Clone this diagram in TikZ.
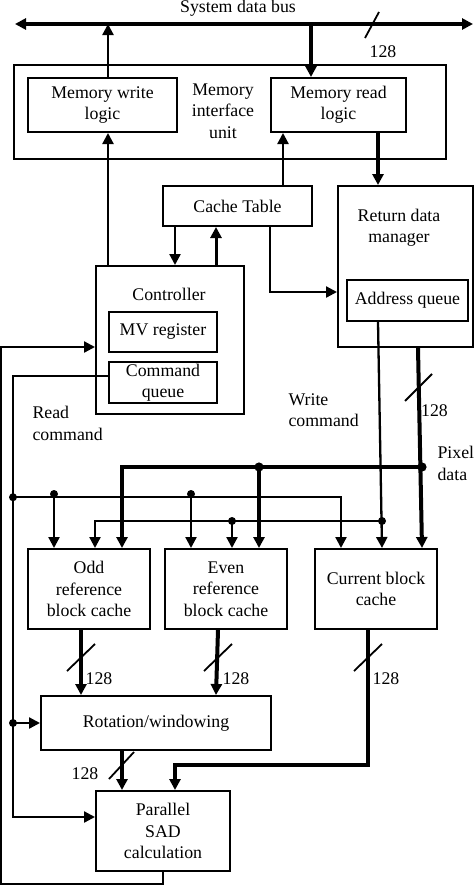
\documentclass[tikz,border=0pt]{standalone}
\usepackage{fontspec}
\setmainfont{Liberation Serif}
\usetikzlibrary{positioning}
\usetikzlibrary{calc}
\usetikzlibrary{arrows.meta}

\begin{document}
\begin{tikzpicture}[x=1pt,y=-1pt,align=center,font=\fontsize{17.8}{21.3}\selectfont,
	>={Triangle[length=11pt,width=11pt]},
	blk/.style={rectangle,draw=black,line width=2pt,inner sep=2pt},
	sig/.style={line width=2.3pt,->},
	midsig/.style={line width=3pt,->},
	wide/.style={line width=4pt,->},
	buscut/.style={line width=1.8pt}]
		\useasboundingbox (0,0) rectangle (474,886);
		% memory interface
		\node[blk,minimum width=432pt,minimum height=94pt] (miu) at (230,112) {};
		\node (miulbl) at ($(miu)+(-7,-1)$) {Memory\\interface\\unit};
		\node[blk,minimum width=149pt,minimum height=54pt] (mwl) at (102.5,105) {Memory write\\logic};
		\node[blk,minimum width=135pt,minimum height=54pt] (mrl) at (338.5,105) {Memory read\\logic};
		\node[blk,minimum width=149pt,minimum height=40pt] (ct) at (237.5,206) {Cache Table};
		\node[blk,minimum width=135pt,minimum height=161pt] (rdm) at (405.5,266.5) {};
		\node (rdmlbl) at ($(rdm.north)+(-6.5,42.5)$) {Return data\\manager};
		\node[blk,minimum width=121pt,minimum height=41pt] (aq) at (407.5,300.5) {Address queue};
		\node[blk,minimum width=148pt,minimum height=148pt] (ctrl) at (170,340) {};
		\node (ctrllbl) at ($(ctrl.north)+(-1,29)$) {Controller};
		\node[blk,minimum width=108pt,minimum height=40pt] (mv) at (163,332) {MV register};
		\node[blk,minimum width=108pt,minimum height=41pt,below=8pt of mv] (cq) {Command\\queue};
		% caches
		\node[blk,minimum width=122pt,minimum height=80pt] (odd) at (89,589) {Odd\\reference\\block cache};
		\node[blk,minimum width=122pt,minimum height=80pt,right=13pt of odd] (even) {Even\\reference\\block cache};
		\node[blk,minimum width=122pt,minimum height=80pt,right=26pt of even] (cur) {Current block\\cache};
		\node[blk,minimum width=230pt,minimum height=54pt] (rot) at (156,723) {Rotation/windowing};
		\node[blk,minimum width=134pt,minimum height=80pt] (sad) at (163,831) {Parallel\\SAD\\calculation};
		% labels
		\node (buslbl) at (238,8.5) {System data bus};
		\node (bus128) at (383,52) {128};
		\node[anchor=west,align=left] (rdlbl) at (29,423.5) {Read\\command};
		\node[anchor=west,align=left] (wrlbl) at (285,410) {Write\\command};
		\node[anchor=west,align=left] (pixlbl) at (434,463.5) {Pixel\\data};
		\node (pix128) at ($(rdm.south west)+(97.5,63)$) {128};
		\node (rot128) at ($(rot.south west)+(45,23)$) {128};
		% system bus
		\coordinate (busL) at (15,24);
		\coordinate (busR) at (473,24);
		\draw[line width=3.6pt,<->] (busL) -- (busR);
		\draw[buscut] (365,38) -- (379,12);
		\coordinate (mwup) at ($(mwl.north west)+(81,0)$);
		\draw[sig] (mwup) -- (mwup |- busL);
		\coordinate (mrdn) at ($(mrl.north west)+(41,0)$);
		\draw[wide] (mrdn |- busL) -- (mrdn);
		% controller and cache table
		\draw[sig] ($(ctrl.north west)+(13,0)$) -- ($(mwl.south west)+(81,0)$);
		\draw[sig] ($(ct.north west)+(121,0)$) -- ($(mrl.south west)+(13,0)$);
		\draw[wide] ($(mrl.south west)+(108,0)$) -- ($(rdm.north west)+(41,0)$);
		\draw[sig] ($(ct.south west)+(13,0)$) -- ($(ctrl.north west)+(80,0)$);
		\draw[midsig] ($(ctrl.north west)+(121,0)$) -- ($(ct.south west)+(54,0)$);
		\draw[sig] ($(ct.south west)+(108,0)$) |- ($(rdm.north west)+(0,107)$);
		% feedback from SAD
		\coordinate (fbk) at ($(ctrl.west)+(-94.5,7)$);
		\draw[sig] (sad.south) -- ++(0,12) -| (fbk) -- ($(ctrl.west)+(0,7)$);
		% read command
		\coordinate (rdtop) at ($(cq.west)+(-95,-6.5)$);
		\coordinate (rdbus) at ($(rdtop)+(0,121)$);
		\coordinate (rdrot) at (rot.west -| rdtop);
		\draw[sig] ($(cq.west)+(0,-6.5)$) -- (rdtop) |- ($(sad.west)+(0,-14)$);
		\draw[sig] (rdrot) -- (rot.west);
		\draw[sig] (rdbus) -| ($(cur.north west)+(27,0)$);
		\foreach \cb in {odd,even}{
			\fill ($(\cb.north west)+(27,-54)$) circle (4pt);
			\draw[sig] ($(\cb.north west)+(27,-54)$) -- ($(\cb.north west)+(27,0)$);
		}
		\fill (rdbus) circle (4pt);
		\fill (rdrot) circle (4pt);
		% write command
		\coordinate (wrj) at ($(cur.north west)+(68,-27)$);
		\draw[sig] ($(aq.south west)+(32,0)$) -- ($(cur.north west)+(68,0)$);
		\draw[sig] (wrj) -| ($(odd.north west)+(68,0)$);
		\fill (wrj) circle (4pt);
		\fill ($(even.north west)+(68,-27)$) circle (4pt);
		\draw[sig] ($(even.north west)+(68,-27)$) -- ($(even.north west)+(68,0)$);
		% pixel data
		\coordinate (pxj) at ($(cur.north west)+(108,-81)$);
		\draw[wide] ($(rdm.south west)+(81,0)$) -- ($(cur.north west)+(108,0)$);
		\draw[buscut] ($(rdm.south west)+(68,53)$) -- ++(27,-27);
		\draw[wide] (pxj) -| ($(odd.north west)+(95,0)$);
		\fill (pxj) circle (4.6pt);
		\fill ($(even.north west)+(95,-81)$) circle (4.6pt);
		\draw[wide] ($(even.north west)+(95,-81)$) -- ($(even.north west)+(95,0)$);
		% caches to SAD
		\draw[wide] ($(odd.south west)+(54,0)$) -- ($(rot.north west)+(41,0)$);
		\draw[wide] ($(even.south west)+(54,0)$) -- ($(rot.north west)+(176,0)$);
		\draw[wide] ($(cur.south west)+(54,0)$) -- ($(cur.south west)+(54,135)$) -| ($(sad.north west)+(80,0)$);
		\draw[wide] ($(rot.south west)+(82,0)$) -- ($(sad.north west)+(27,0)$);
		\draw[buscut] ($(rot.south west)+(69,28)$) -- ++(25,-27);
		\foreach \cb in {odd,even,cur}{
			\draw[buscut] ($(\cb.south west)+(40,41)$) -- ++(28,-27);
			\node (w\cb) at ($(\cb.south west)+(72,49)$) {128};
		}
	\end{tikzpicture}
\end{document}
